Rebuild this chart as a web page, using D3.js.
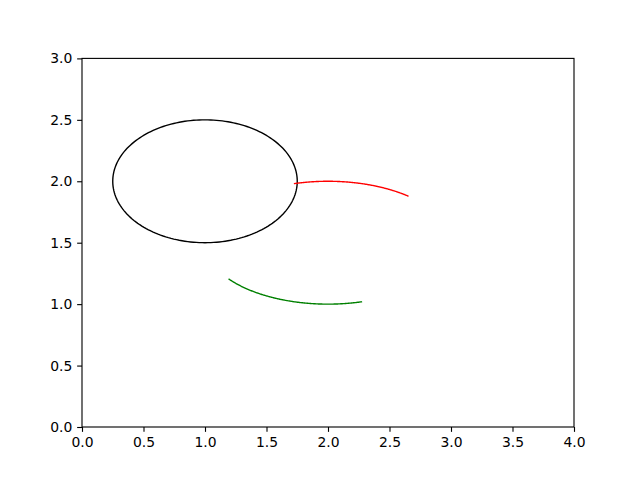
<!DOCTYPE html>
<html>
<head>
<meta charset="utf-8">
<script src="https://cdn.jsdelivr.net/npm/d3@7"></script>
<style>
  body { margin: 0; background: #fff; }
  svg { display: block; }
</style>
</head>
<body>
<svg id="chart"></svg>
<script>
// ticks
const xTicks = [0, 0.5, 1, 1.5, 2, 2.5, 3, 3.5, 4];
const yTicks = [0, 0.5, 1, 1.5, 2, 2.5, 3];
const xDomain = [0, 4];
const yDomain = [0, 3];

// black ellipse
const ellipseCenter = [1, 2];
const ellipseSize = [1.5, 1];

// arcs of one ellipse (theta in degrees)
const arcCenter = [2, 1.5];
const arcSize = [2, 1];
const arcTheta1 = [30, 200];
const arcTheta2 = [120, 300];
const arcColors = ["#ff0000", "#008000"];

const width = 640, height = 480;
const margin = { left: 82, right: 66, top: 58.4, bottom: 53 };

const svg = d3.select("#chart").attr("width", width).attr("height", height);

const x = d3.scaleLinear().domain(xDomain).range([margin.left, width - margin.right]);
const y = d3.scaleLinear().domain(yDomain).range([height - margin.bottom, margin.top]);

const line = d3.line().x(d => x(d[0])).y(d => y(d[1]));

// matplotlib stretches the arc angles for non-circular ellipses
function stretch(theta, w, h) {
  const r = theta * Math.PI / 180;
  let t = Math.atan2((w / h) * Math.sin(r), Math.cos(r));
  if (t < 0) t += 2 * Math.PI;
  return t;
}

function ellipsePts(c, size, t1, t2) {
  const n = 200;
  return d3.range(n + 1).map(i => {
    const t = t1 + (t2 - t1) * i / n;
    return [c[0] + size[0] / 2 * Math.cos(t), c[1] + size[1] / 2 * Math.sin(t)];
  });
}

svg.append("path")
  .attr("fill", "none")
  .attr("stroke", "#000")
  .attr("stroke-width", 1.39)
  .attr("d", line(ellipsePts(ellipseCenter, ellipseSize, 0, 2 * Math.PI)) + "Z");

arcTheta1.forEach((th1, i) => {
  let t1 = stretch(th1, arcSize[0], arcSize[1]);
  let t2 = stretch(arcTheta2[i], arcSize[0], arcSize[1]);
  if (t2 < t1) t2 += 2 * Math.PI;
  svg.append("path")
    .attr("fill", "none")
    .attr("stroke", arcColors[i])
    .attr("stroke-width", 1.39)
    .attr("d", line(ellipsePts(arcCenter, arcSize, t1, t2)));
});

// axes
const fmt = d3.format(".1f");
const xAxis = svg.append("g")
  .attr("transform", `translate(0,${height - margin.bottom})`)
  .call(d3.axisBottom(x).tickValues(xTicks).tickFormat(fmt).tickSize(4.86).tickPadding(4.86));
const yAxis = svg.append("g")
  .attr("transform", `translate(${margin.left},0)`)
  .call(d3.axisLeft(y).tickValues(yTicks).tickFormat(fmt).tickSize(4.86).tickPadding(4.86));

[xAxis, yAxis].forEach(g => {
  g.select(".domain").remove();
  g.selectAll(".tick line").attr("stroke", "#000").attr("stroke-width", 1.11);
  g.selectAll(".tick text")
    .attr("fill", "#000")
    .style("font-family", "'DejaVu Sans', sans-serif")
    .style("font-size", "13.9px");
});

// frame
svg.append("rect")
  .attr("x", margin.left)
  .attr("y", margin.top)
  .attr("width", width - margin.left - margin.right)
  .attr("height", height - margin.top - margin.bottom)
  .attr("fill", "none")
  .attr("stroke", "#000")
  .attr("stroke-width", 1.11);
</script>
</body>
</html>
